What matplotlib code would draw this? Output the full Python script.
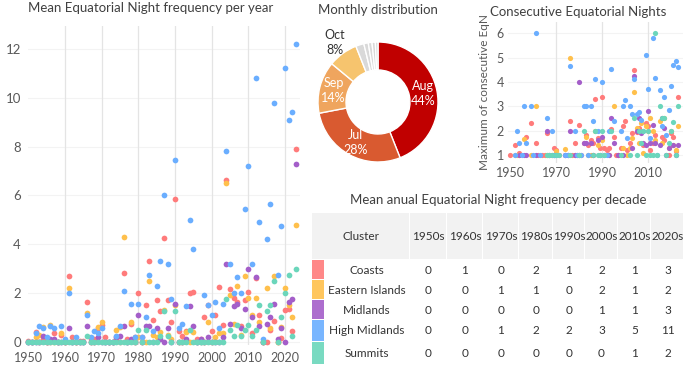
import numpy as np
import matplotlib
matplotlib.use("Agg")
import matplotlib.pyplot as plt
from matplotlib.patches import Rectangle

plt.rcParams['font.family'] = ['Lato', 'DejaVu Sans']

NA = np.nan
years = list(range(1950, 2024))
clusters = ["Coasts", "Eastern Islands", "Midlands", "High Midlands", "Summits"]
colors = ["#FF7B7B", "#FFC04C", "#A45EC9", "#6AAEFF", "#6BD6BB"]

# Mean Equatorial Night frequency per year (left scatter)
freq_coasts = [0.05, 0, 0.4, 0, 0.1, 0, 0, 0.35, 0, 0.3,
               0, 2.7, 0.2, 0, 0.05, 0.05, 1.65, 0.1, 0.1, 0.55,
               0.7, 0.2, 0, 0, 0.1, 0, 2.8, 0.1, 0.75, 0.2,
               2.0, 0.2, 1.5, 3.3, 0.9, 1.7, 1.25, 4.25, 1.7, 0.8,
               5.85, 0.45, 0.25, 0.45, 2.0, 2.05, 0.1, 0.1, 1.0, 1.5,
               0.45, 1.1, 2.25, 0.7, 6.65, 2.15, 1.8, 1.65, 0.65, 1.7,
               2.05, 0.35, 2.6, 1.1, 0, 0, 0.5, 0.85, 0, 0.15,
               1.3, 1.35, 0.45, 7.9]
freq_eastern = [0, 0, 0.2, 0.3, 0.6, 0, 0.7, 0, 0, 0.35,
                0, 2.2, 0, 0, 0, 0, 1.2, 0, 0, 0.6,
                0.8, 0, 0, 0, 0.5, 0.6, 4.3, 0, 0.8, 0,
                0.2, 0, 0, 2.5, 0.3, 0.2, 0.4, 1.3, 0.3, 0.1,
                1.5, 0, 0, 0.4, 0, 0.4, 0, 0, 0, 0.8,
                0, 0.2, 0.35, 0.35, 6.5, 1.9, 0.75, 2.3, 0.3, 2.7,
                1.8, 1.1, 1.8, 0.8, 0, 2.2, 0.55, 2.7, 0, 0.6,
                2.2, 1.5, 1.0, 4.8]
freq_midlands = [0, 0, 0, 0, 0.25, 0, 0.1, 0.1, 0, 0,
                 0, 0.55, 0, 0, 0, 0, 0.65, 0, 0, 0.2,
                 0, 0, 0, 0, 0.2, 0.25, 0.65, 0, 0.1, 0,
                 1.1, 0, 0.65, 0.65, 0, 0.55, 0.1, 0, 0.55, 0,
                 1.55, 0, 0, 0.1, 1.45, 0.65, 0, 0.1, 0, 0.2,
                 0, 0, 0, 0.2, 3.2, 0.75, 1.45, 1.55, 0.55, 1.35,
                 3.0, 1.0, 2.65, 0.65, 0, 0.75, 1.0, 1.55, 0.1, 0.55,
                 0, 1.65, 1.75, 7.3]
freq_high = [0, 0, 0.35, 0.65, 0.55, 0.2, 0.65, 0.55, 0, 0.65,
             0.1, 2.0, 0, 0.2, 0, 0, 1.1, 0.2, 0.45, 0.35,
             0.55, 0, 0, 0, 0.25, 0.65, 2.1, 0, 1.55, 0.2,
             1.55, 0.2, 1.0, 2.75, 0.45, 2.3, 3.3, 6.0, 3.2, 1.75,
             7.45, 0.55, 0.75, 1.45, 5.0, 3.8, 0, 0, 1.9, 1.5,
             1.1, 1.65, 0.55, 1.55, 7.8, 3.2, 2.0, 2.65, 2.0, 5.45,
             7.2, 3.2, 10.8, 4.9, 0.1, 4.2, 5.65, 9.8, 2.75, 4.75,
             11.2, 9.1, 9.4, 12.2]
freq_summits = [0, 0, 0, 0, 0, 0, 0, 0, 0, 0,
                0, 0, 0, 0, 0, 0, 0.25, 0, 0, 0,
                0, 0, 0, 0, 0, 0, 0, 0, 0, 0,
                0.5, 0, 0.5, 0, 0, 0, 0.25, 1.25, 0.25, 0,
                1.25, 0, 0, 0, 0.5, 0, 0, 0, 0, 0,
                0, 0, 0, 0, 1.75, 0.5, 0.25, 0.7, 0.25, 0.5,
                0.7, 0.25, 0.5, 1.5, 0, 1.25, 1.5, 2.5, 0, 1.0,
                2.0, 2.75, 0.25, 3.0]

# Maximum of consecutive Equatorial Nights (right scatter)
cons_coasts = [1, NA, 1.4, NA, 1.1, NA, NA, 1.75, NA, 2.3,
               NA, 1.5, 1, NA, 1, 1, 1.9, 1, 1, 1.3,
               1.2, 1, NA, NA, 1, NA, 2.4, 1, 1.5, 1,
               2.25, 1, 1.5, 1.8, 1.4, 1.6, 1.5, 3.3, 1.7, 1.3,
               3.4, 1.3, 1.2, 1.3, 2.05, 1.75, 1, 1, 1.3, 2.2,
               2.4, 1.2, 1.5, 1.9, 4.5, 1.95, 2.1, 2.0, 1.4, 2.3,
               2.2, 1.2, 1.5, 1.8, NA, NA, 1.75, 1.6, NA, 1,
               1.9, 1.75, 1.15, 3.4]
cons_eastern = [NA, NA, 1, 1, 1, NA, 1.65, NA, NA, 1,
                NA, 3.0, NA, NA, NA, NA, 1, NA, NA, 1,
                1.15, NA, NA, NA, 1.25, 1, 5.0, NA, 1, NA,
                1, NA, NA, 1.75, 1, 1, 1, 2.0, 1.4, 1,
                1.6, NA, NA, 1, NA, 3.0, NA, NA, NA, 1.3,
                NA, 1, 1.3, 1.7, 3.6, 2.1, 1.5, 2.3, 1.1, 2.2,
                2.0, 2.5, 2.0, 1.6, NA, 2.4, 1.5, 2.5, NA, 1.3,
                2.0, 1.4, 1.2, 2.2]
cons_midlands = [NA, NA, NA, NA, 1, NA, 1, 1, NA, NA,
                 NA, 1, NA, NA, NA, NA, 2.0, NA, NA, 1,
                 NA, NA, NA, NA, 1, 1, 2.0, NA, 1, NA,
                 4.0, NA, 1.5, 1.5, NA, 1.5, 1, NA, 1.6, NA,
                 1.75, NA, NA, 1, 2.5, 1.5, NA, 1, NA, 1,
                 NA, NA, NA, 1.3, 4.25, 2.0, 2.5, 1.9, 1.5, 1.4,
                 2.8, 1.5, 2.25, 1.5, NA, 1.4, 2.5, 2.1, 1, 1.3,
                 NA, 1.4, 1.0, 1.4]
cons_high = [NA, NA, 1, 2.0, 1.5, 1, 3.0, 1.5, NA, 3.0,
             1, 6.0, NA, 1, NA, NA, 2.5, 1, 2.0, 1,
             1, NA, NA, NA, 1, 1, 4.65, NA, 2.0, 1,
             1, 1, 3.0, 3.0, 1, 3.0, 2.4, 4.1, 2.0, 1,
             4.0, 1, 1, 2.0, 4.55, 2.4, NA, NA, 2.0, 3.0,
             3.25, 1.7, 3.0, 2.7, 4.1, 2.7, 2.75, 2.45, 2.0, 5.1,
             3.7, 1.7, 5.8, 4.15, 1, 3.65, 2.2, 3.4, 1.8, 2.85,
             3.85, 4.7, 4.85, 4.6]
cons_summits = [NA, NA, NA, NA, NA, NA, NA, NA, NA, NA,
                NA, NA, NA, NA, NA, NA, 1, 1, 1, NA,
                1, 1, NA, NA, NA, NA, 1, NA, NA, NA,
                1, NA, 2.0, NA, NA, NA, 1, 2.0, 1, 1,
                2.0, 1, NA, NA, 2.0, NA, NA, NA, 1, NA,
                NA, NA, 1, NA, 2.5, 1, 2.0, 1.5, 2.0, 1,
                2.0, 1, 1, 6.0, 1, 3.0, 2.5, 2.5, 1, 1.5,
                2.0, 2.35, 1, 3.0]

# Monthly distribution (donut)
months = ["Aug", "Jul", "Sep", "Oct", "Jun", "Nov", "May", "Apr", "Dec"]
month_share = [44, 28, 14, 8, 2.2, 1.2, 1.0, 0.9, 0.7]
month_colors = ["#C00000", "#D95A30", "#EFA55E", "#F6C46E",
                "#D9D9D9", "#D9D9D9", "#D9D9D9", "#D9D9D9", "#D9D9D9"]

# Table: mean annual EqN frequency per decade
decades = ["1950s", "1960s", "1970s", "1980s", "1990s", "2000s", "2010s", "2020s"]
table_values = [
    [0, 1, 0, 2, 1, 2, 1, 3],
    [0, 0, 1, 1, 0, 2, 1, 2],
    [0, 0, 0, 0, 0, 1, 1, 3],
    [0, 0, 1, 2, 2, 3, 5, 11],
    [0, 0, 0, 0, 0, 0, 1, 2],
]

freqs = [freq_coasts, freq_eastern, freq_midlands, freq_high, freq_summits]
conss = [cons_coasts, cons_eastern, cons_midlands, cons_high, cons_summits]

W, H = 685, 367
fig = plt.figure(figsize=(W / 100, H / 100), dpi=100)
TXT = "#404040"
TICK = "#595959"
VGRID = "#E4E4E4"
HGRID = "#F3F3F3"

def fx(px):
    return px / W

def fy(py):
    return 1 - py / H

# ---------------- Left scatter ----------------
ax1 = fig.add_axes([fx(28), fy(345), fx(300) - fx(28), fy(26) - fy(345)])
for vals, c in zip(freqs, colors):
    ax1.scatter(years, vals, s=17, color=c, linewidths=0, zorder=3, clip_on=False)
ax1.set_xlim(1949.9, 2024.1)
ax1.set_ylim(-0.13, 12.94)
ax1.set_xticks([1950, 1960, 1970, 1980, 1990, 2000, 2010, 2020])
ax1.set_yticks([0, 2, 4, 6, 8, 10, 12])
for s in ax1.spines.values():
    s.set_visible(False)
ax1.tick_params(axis="x", length=0, labelsize=9, colors=TICK, pad=5)
ax1.tick_params(axis="y", length=0, labelsize=9.5, colors=TICK, pad=5)
for x in range(1960, 2021, 10):
    ax1.axvline(x, color=VGRID, lw=0.9, zorder=1)
for y in range(0, 13, 2):
    ax1.axhline(y, color=HGRID, lw=0.8, zorder=0)
fig.text(fx(151), fy(8), "Mean Equatorial Night frequency per year", ha="center", va="center",
         fontsize=9.5, color=TXT)

# ---------------- Donut ----------------
axd = fig.add_axes([fx(378 - 66), fy(102 + 66), fx(132), 132 / H])
wedges, _ = axd.pie(month_share, colors=month_colors, startangle=90, counterclock=False,
                    radius=60, wedgeprops=dict(width=28, edgecolor="white", linewidth=1))
axd.set_xlim(-66, 66)
axd.set_ylim(-66, 66)
axd.set_aspect("equal")
axd.axis("off")
cum = 0
for i, (m, v) in enumerate(zip(months, month_share)):
    mid = 90 - (cum + v / 2) * 3.6
    cum += v
    if i > 3:
        continue
    r = 46 if i < 3 else 74
    col = "white" if i < 3 else "#333333"
    axd.text(r * np.cos(np.radians(mid)), r * np.sin(np.radians(mid)), f"{m}\n{v:.0f}%",
             ha="center", va="center", fontsize=9, color=col, linespacing=1.3)
fig.text(fx(378), fy(10), "Monthly distribution", ha="center", va="center", fontsize=9.5, color=TXT)

# ---------------- Right scatter ----------------
ax2 = fig.add_axes([fx(508), fy(163), fx(683) - fx(508), fy(22) - fy(163)])
for vals, c in zip(conss, colors):
    ax2.scatter(years, vals, s=14, color=c, linewidths=0, zorder=3, clip_on=False)
ax2.set_xlim(1949.0, 2025.2)
ax2.set_ylim(0.67, 6.46)
ax2.set_xticks([1950, 1970, 1990, 2010])
ax2.set_yticks([1, 2, 3, 4, 5, 6])
for s in ax2.spines.values():
    s.set_visible(False)
ax2.tick_params(length=0, labelsize=9, colors=TICK, pad=3)
for x in [1970, 1990, 2010]:
    ax2.axvline(x, color=VGRID, lw=0.9, zorder=1)
for y in range(1, 7):
    ax2.axhline(y, color=HGRID, lw=0.8, zorder=0)
ax2.set_ylabel("Maximum of consecutive EqN", fontsize=8.5, color=TICK, labelpad=5)
fig.text(fx(578), fy(12), "Consecutive Equatorial Nights", ha="center", va="center",
         fontsize=9.5, color=TXT)

# ---------------- Table ----------------
axt = fig.add_axes([0, 0, 1, 1], zorder=-1)
axt.set_xlim(0, W)
axt.set_ylim(H, 0)
axt.axis("off")
fig.text(fx(498), fy(200), "Mean anual Equatorial Night frequency per decade", ha="center",
         va="center", fontsize=9.5, color=TXT)
col_edges = [312, 410, 447, 483, 519, 553, 585, 618, 651, 684]
head_top, head_bot = 213, 260
row_edges = [260, 280, 300, 320, 342, 365]
for i in range(len(col_edges) - 1):
    axt.add_patch(Rectangle((col_edges[i], head_top), col_edges[i + 1] - col_edges[i] - 1,
                            head_bot - head_top - 1, facecolor="#F2F2F2", edgecolor="none"))
axt.text((col_edges[0] + col_edges[1]) / 2, (head_top + head_bot) / 2, "Cluster",
         ha="center", va="center", fontsize=8.5, color="#333333")
for j, d in enumerate(decades):
    axt.text((col_edges[j + 1] + col_edges[j + 2]) / 2, (head_top + head_bot) / 2, d,
             ha="center", va="center", fontsize=8.5, color="#333333")
for i, (name, c) in enumerate(zip(clusters, colors)):
    y0, y1 = row_edges[i], row_edges[i + 1]
    axt.add_patch(Rectangle((312, y0), 12, y1 - y0 - 1, facecolor=c, edgecolor="none", alpha=0.9))
    axt.text((324 + 410) / 2, (y0 + y1) / 2, name, ha="center", va="center", fontsize=8.5,
             color="#333333")
    for j, v in enumerate(table_values[i]):
        axt.text((col_edges[j + 1] + col_edges[j + 2]) / 2, (y0 + y1) / 2, str(v),
                 ha="center", va="center", fontsize=8.5, color="#333333")

fig.savefig("out.png", dpi=100)
